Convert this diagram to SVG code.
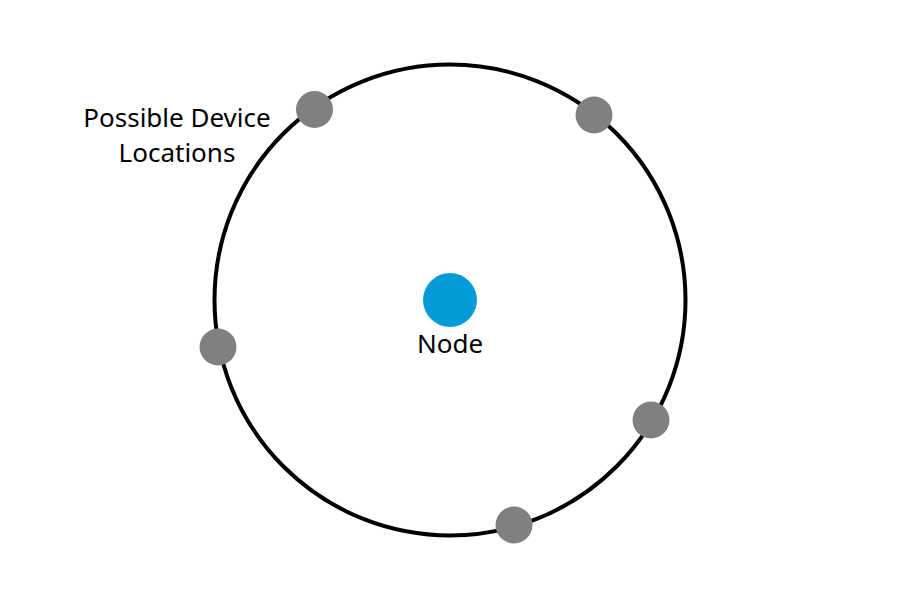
<svg xmlns="http://www.w3.org/2000/svg" width="900" height="602" viewBox="0 0 900 602">
<style>
.dev{fill:#808080}
.lbl{font-family:"Noto Sans","Open Sans",sans-serif;font-size:26px;fill:#000;text-anchor:middle}
</style>
<rect width="900" height="602" fill="#fff"/>
<g id="connectors">
<circle cx="450" cy="300" r="235.5" fill="none" stroke="#000" stroke-width="4"/>
</g>
<g id="node">
<circle cx="450" cy="300" r="27" fill="#039BD8"/>
<text class="lbl" x="450" y="353">Node</text>
</g>
<g id="devices">
<circle class="dev" cx="314.5" cy="109.5" r="18.5"/>
<circle class="dev" cx="594" cy="115" r="18.5"/>
<circle class="dev" cx="218" cy="347" r="18.5"/>
<circle class="dev" cx="651" cy="420" r="18.5"/>
<circle class="dev" cx="514" cy="525" r="18.5"/>
</g>
<g id="label">
<text class="lbl" x="177" y="127">Possible Device</text>
<text class="lbl" x="177" y="162">Locations</text>
</g>
</svg>
